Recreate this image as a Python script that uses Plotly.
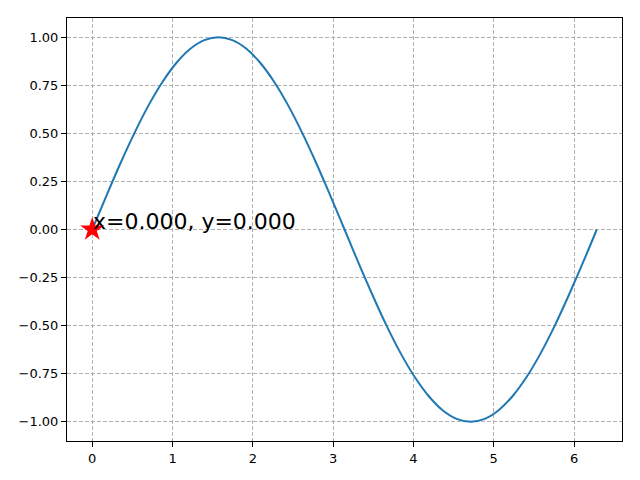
import plotly.graph_objects as go

x_vals = [0.0, 0.175, 0.349, 0.524, 0.698, 0.873, 1.047, 1.222, 1.396, 1.571, 1.745, 1.920,
          2.094, 2.269, 2.443, 2.618, 2.793, 2.967, 3.142, 3.316, 3.491, 3.665, 3.840, 4.014,
          4.189, 4.363, 4.538, 4.712, 4.887, 5.061, 5.236, 5.411, 5.585, 5.760, 5.934, 6.109, 6.283]
y_vals = [0.0, 0.174, 0.342, 0.5, 0.643, 0.766, 0.866, 0.940, 0.985, 1.0, 0.985, 0.940,
          0.866, 0.766, 0.643, 0.5, 0.342, 0.174, 0.0, -0.174, -0.342, -0.5, -0.643, -0.766,
          -0.866, -0.940, -0.985, -1.0, -0.985, -0.940, -0.866, -0.766, -0.643, -0.5, -0.342, -0.174, 0.0]
point_x = [0.0]
point_y = [0.0]
label = "x=0.000, y=0.000"
x_ticks = [0, 1, 2, 3, 4, 5, 6]
y_ticks = [-1.0, -0.75, -0.5, -0.25, 0.0, 0.25, 0.5, 0.75, 1.0]

fig = go.Figure()
fig.add_trace(go.Scatter(x=x_vals, y=y_vals, mode="lines",
                         line=dict(color="#1f77b4", width=2, shape="spline"),
                         showlegend=False, hoverinfo="skip"))
fig.add_trace(go.Scatter(x=point_x, y=point_y, mode="markers",
                         marker=dict(symbol="star", size=18, color="red",
                                     line=dict(width=0)),
                         showlegend=False))
fig.add_annotation(x=point_x[0], y=point_y[0], text=label, showarrow=False,
                   xanchor="left", yanchor="bottom", yshift=-6, xshift=-1,
                   font=dict(family="DejaVu Sans", size=22, color="black"))

axis_common = dict(showline=True, linecolor="black", linewidth=1, mirror=True,
                   ticks="outside", ticklen=5, tickcolor="black", tickwidth=1,
                   showgrid=True, gridcolor="#b0b0b0", griddash="4px,2px", gridwidth=1,
                   zeroline=False,
                   tickfont=dict(family="DejaVu Sans", size=13, color="black"))
fig.update_xaxes(range=[-0.314, 6.597], tickvals=x_ticks,
                 ticktext=[str(t) for t in x_ticks], **axis_common)
fig.update_yaxes(range=[-1.1, 1.1], tickvals=y_ticks,
                 ticktext=[f"{t:.2f}".replace("-", "\u2212") for t in y_ticks], **axis_common)
fig.update_layout(width=632, height=472, plot_bgcolor="white", paper_bgcolor="white",
                  margin=dict(l=59, r=18, t=10, b=39))
fig.write_html("out.html")
